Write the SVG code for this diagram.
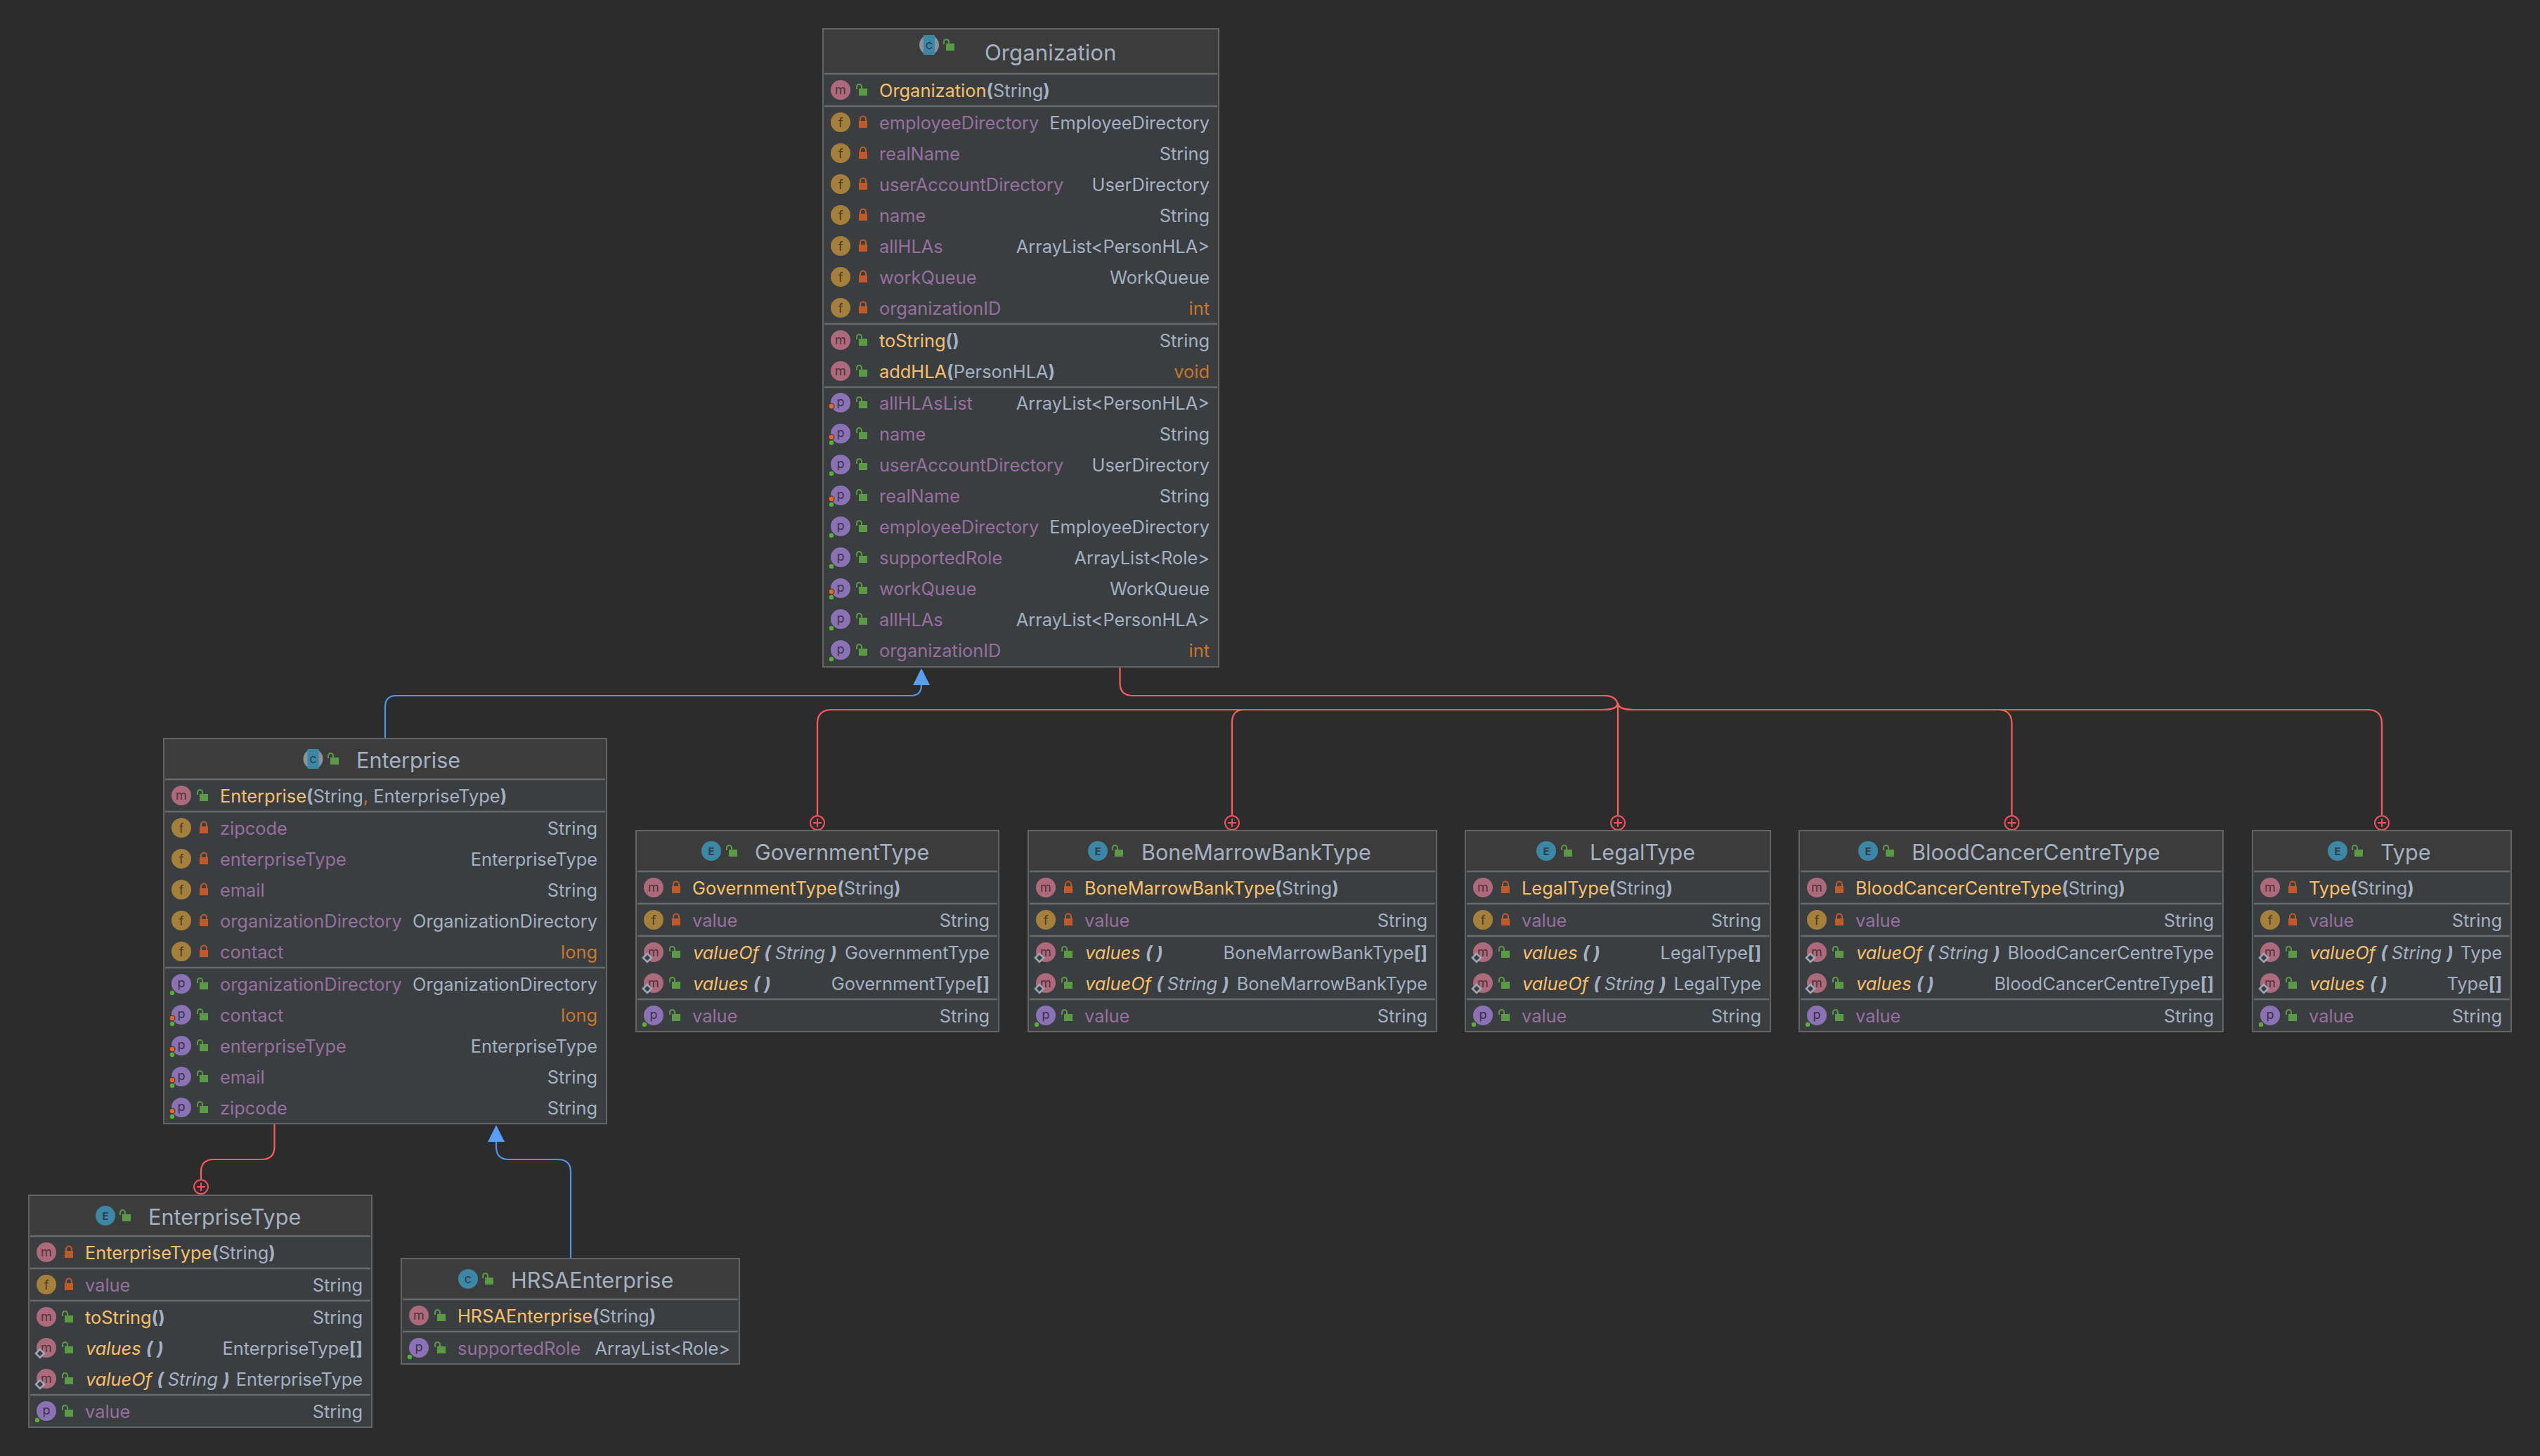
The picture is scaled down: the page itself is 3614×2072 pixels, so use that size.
<svg xmlns="http://www.w3.org/2000/svg" xmlns:xlink="http://www.w3.org/1999/xlink" width="3614" height="2072" viewBox="0 0 3614 2072">
<style>
text{font-family:Inter,"Noto Sans","Liberation Sans",sans-serif;font-size:25.4px;fill:#a4b1c2}
text:not(.il){transform:translateY(1px)}
.t{font-size:30.6px}
.tb{font-size:31.2px}
.n{fill:#96709f}
.y{fill:#f9c06c}
.o{fill:#c7762f}
.b{font-weight:700}
.i{font-style:italic}
.e{text-anchor:end}
.il{font-size:18px;text-anchor:middle;fill:#4d3138}
.hd{fill:#3c3c3c}
.bd{fill:#3b3e41}
.fr{fill:none;stroke:#646464;stroke-width:2}
.dv{fill:none;stroke:#6a6a6a;stroke-width:2.4}
.red{fill:none;stroke:#f95e5e;stroke-width:2.2}
.blue{fill:none;stroke:#4f94ec;stroke-width:2.2}
.plus{fill:none;stroke:#f2505c;stroke-width:2}
</style>
<defs>
<g id="lg"><path d="M-9-1V-4.500a3.500 3.500 0 0 1 7 0V-2" fill="none" stroke="#5a9a45" stroke-width="2"/><rect x="-6" y="-2" width="12" height="10" fill="#5a9a45"/></g>
<g id="lr"><path d="M-4-2V-4.500a4 4 0 0 1 8 0V-2" fill="none" stroke="#c05a2a" stroke-width="2"/><rect x="-6" y="-2" width="12" height="10" fill="#c05a2a"/></g>
<g id="m"><circle r="14" fill="#ad6a7c"/><text class="il" y="6" font-size="20">m</text></g>
<g id="f"><circle r="14" fill="#a5803c"/><text class="il" y="7" style="fill:#4a3a1e">f</text></g>
<g id="p0"><circle r="14" fill="#8a72b5"/><text class="il" y="5" style="fill:#3a3048">p</text></g>
<g id="sd"><path d="M-6 0L0-6L6 0L0 6Z" fill="#3b3e41" stroke="#9ea7b3" stroke-width="2.600"/></g>
<g id="ms"><use href="#m"/><use href="#sd" x="-9" y="8"/></g>
<g id="pg"><use href="#p0"/><circle cx="-13" cy="13" r="4.500" fill="#3b3e41"/><circle cx="-13" cy="13" r="3.200" fill="#58b038"/></g>
<g id="po"><use href="#p0"/><circle cx="-13" cy="5" r="4.500" fill="#3b3e41"/><circle cx="-13" cy="5" r="3.200" fill="#f26522"/></g>
<g id="pb"><use href="#p0"/><circle cx="-13" cy="5" r="4.500" fill="#3b3e41"/><circle cx="-13" cy="13" r="3.200" fill="#58b038"/><circle cx="-13" cy="5" r="3.200" fill="#f26522"/></g>
<g id="ce"><circle r="14" fill="#3b87a5"/><text class="il" y="6" style="fill:#2d3f4a;font-size:15px;font-weight:700">E</text></g>
<g id="cc"><circle r="14" fill="#3b87a5"/><text class="il" y="6" style="fill:#2d3f4a">c</text></g>
<g id="ca"><circle r="14" fill="#8a929c"/><rect x="-8" y="-14" width="16" height="28" fill="#3b87a5"/><text class="il" y="6" style="fill:#2d3f4a">c</text></g>
<path id="ah" d="M0 0L12 24H-12Z" fill="#589df6"/>
<g id="ci"><circle r="10" fill="#2c2c2c" stroke="#f2505c" stroke-width="2"/><path d="M-6 0H6M0-6V6" class="plus"/></g>
</defs>
<rect width="3614" height="2072" fill="#2c2c2c"/>

<g id="connectors">
<path class="blue" d="M548 1051V1006Q548 990 564 990H1296Q1311 990 1311 975V970"/>
<use href="#ah" x="1311" y="951"/>
<path class="blue" d="M812 1791V1668Q812 1650 794 1650H724Q706 1650 706 1632V1620"/>
<use href="#ah" x="706" y="1601"/>
<path class="red" d="M1593.500 950V972Q1593.500 990 1612 990H2282Q2302 990 2302 1006V1161"/>
<path class="red" d="M2302 1000Q2302 1010 2280 1010H1183Q1163 1010 1163 1030V1161"/>
<path class="red" d="M2302 1000Q2302 1010 2280 1010H1770Q1753 1010 1753 1028V1161"/>
<path class="red" d="M2302 1000Q2302 1010 2324 1010H2843Q2862.500 1010 2862.500 1030V1161"/>
<path class="red" d="M2302 1000Q2302 1010 2324 1010H3369Q3389 1010 3389 1030V1161"/>
<path class="red" d="M390.500 1600V1632Q390.500 1650 372 1650H304Q286 1650 286 1668V1679"/>
<use href="#ci" x="1163" y="1171"/>
<use href="#ci" x="1753" y="1171"/>
<use href="#ci" x="2302" y="1171"/>
<use href="#ci" x="2862.500" y="1171"/>
<use href="#ci" x="3389" y="1171"/>
<use href="#ci" x="286" y="1689"/>
</g>

<g id="Organization" transform="translate(1171 0)">
<rect class="bd" y="41" width="563" height="908"/><rect class="hd" y="41" width="563" height="64"/>
<rect class="fr" y="41" width="563" height="908"/><path class="dv" d="M2 105H561M2 151H561M2 461H561M2 551H561"/>
<use href="#ca" x="151" y="64"/><use href="#lg" x="181" y="64"/><text class="tb" x="230" y="85">Organization</text>
<use href="#m" x="25" y="128"/><use href="#lg" x="57" y="128"/><text class="y" x="80" y="137">Organization<tspan class="b" style="fill:#a4b1c2">(</tspan><tspan style="fill:#a4b1c2">String</tspan><tspan class="b" style="fill:#a4b1c2">)</tspan></text>
<use href="#f" x="25" y="174"/><use href="#lr" x="57" y="174"/><text class="n" x="80" y="183">employeeDirectory</text><text class="e" x="550" y="183">EmployeeDirectory</text>
<use href="#f" x="25" y="218"/><use href="#lr" x="57" y="218"/><text class="n" x="80" y="227">realName</text><text class="e" x="550" y="227">String</text>
<use href="#f" x="25" y="262"/><use href="#lr" x="57" y="262"/><text class="n" x="80" y="271">userAccountDirectory</text><text class="e" x="550" y="271">UserDirectory</text>
<use href="#f" x="25" y="306"/><use href="#lr" x="57" y="306"/><text class="n" x="80" y="315">name</text><text class="e" x="550" y="315">String</text>
<use href="#f" x="25" y="350"/><use href="#lr" x="57" y="350"/><text class="n" x="80" y="359">allHLAs</text><text class="e" x="550" y="359">ArrayList&lt;PersonHLA&gt;</text>
<use href="#f" x="25" y="394"/><use href="#lr" x="57" y="394"/><text class="n" x="80" y="403">workQueue</text><text class="e" x="550" y="403">WorkQueue</text>
<use href="#f" x="25" y="438"/><use href="#lr" x="57" y="438"/><text class="n" x="80" y="447">organizationID</text><text class="e o" x="550" y="447">int</text>
<use href="#m" x="25" y="484"/><use href="#lg" x="57" y="484"/><text class="y" x="80" y="493">toString<tspan class="b" style="fill:#a4b1c2">()</tspan></text><text class="e" x="550" y="493">String</text>
<use href="#m" x="25" y="528"/><use href="#lg" x="57" y="528"/><text class="y" x="80" y="537">addHLA<tspan class="b" style="fill:#a4b1c2">(</tspan><tspan style="fill:#a4b1c2">PersonHLA</tspan><tspan class="b" style="fill:#a4b1c2">)</tspan></text><text class="e o" x="550" y="537">void</text>
<use href="#po" x="25" y="573"/><use href="#lg" x="57" y="573"/><text class="n" x="80" y="582">allHLAsList</text><text class="e" x="550" y="582">ArrayList&lt;PersonHLA&gt;</text>
<use href="#pb" x="25" y="617"/><use href="#lg" x="57" y="617"/><text class="n" x="80" y="626">name</text><text class="e" x="550" y="626">String</text>
<use href="#pg" x="25" y="661"/><use href="#lg" x="57" y="661"/><text class="n" x="80" y="670">userAccountDirectory</text><text class="e" x="550" y="670">UserDirectory</text>
<use href="#pb" x="25" y="705"/><use href="#lg" x="57" y="705"/><text class="n" x="80" y="714">realName</text><text class="e" x="550" y="714">String</text>
<use href="#pg" x="25" y="749"/><use href="#lg" x="57" y="749"/><text class="n" x="80" y="758">employeeDirectory</text><text class="e" x="550" y="758">EmployeeDirectory</text>
<use href="#pg" x="25" y="793"/><use href="#lg" x="57" y="793"/><text class="n" x="80" y="802">supportedRole</text><text class="e" x="550" y="802">ArrayList&lt;Role&gt;</text>
<use href="#pb" x="25" y="837"/><use href="#lg" x="57" y="837"/><text class="n" x="80" y="846">workQueue</text><text class="e" x="550" y="846">WorkQueue</text>
<use href="#pg" x="25" y="881"/><use href="#lg" x="57" y="881"/><text class="n" x="80" y="890">allHLAs</text><text class="e" x="550" y="890">ArrayList&lt;PersonHLA&gt;</text>
<use href="#pg" x="25" y="925"/><use href="#lg" x="57" y="925"/><text class="n" x="80" y="934">organizationID</text><text class="e o" x="550" y="934">int</text>
</g>

<g id="Enterprise" transform="translate(233 0)">
<rect class="bd" y="1051" width="630" height="548"/><rect class="hd" y="1051" width="630" height="58"/>
<rect class="fr" y="1051" width="630" height="548"/><path class="dv" d="M2 1109H628M2 1155H628M2 1377H628"/>
<use href="#ca" x="212.500" y="1080"/><use href="#lg" x="243" y="1080"/><text class="t" x="274" y="1092">Enterprise</text>
<use href="#m" x="25" y="1132"/><use href="#lg" x="57" y="1132"/><text class="y" x="80" y="1141">Enterprise<tspan class="b" style="fill:#a4b1c2">(</tspan><tspan style="fill:#a4b1c2">String</tspan><tspan class="o">, </tspan><tspan style="fill:#a4b1c2">EnterpriseType</tspan><tspan class="b" style="fill:#a4b1c2">)</tspan></text>
<use href="#f" x="25" y="1178"/><use href="#lr" x="57" y="1178"/><text class="n" x="80" y="1187">zipcode</text><text class="e" x="617" y="1187">String</text>
<use href="#f" x="25" y="1222"/><use href="#lr" x="57" y="1222"/><text class="n" x="80" y="1231">enterpriseType</text><text class="e" x="617" y="1231">EnterpriseType</text>
<use href="#f" x="25" y="1266"/><use href="#lr" x="57" y="1266"/><text class="n" x="80" y="1275">email</text><text class="e" x="617" y="1275">String</text>
<use href="#f" x="25" y="1310"/><use href="#lr" x="57" y="1310"/><text class="n" x="80" y="1319">organizationDirectory</text><text class="e" x="617" y="1319">OrganizationDirectory</text>
<use href="#f" x="25" y="1354"/><use href="#lr" x="57" y="1354"/><text class="n" x="80" y="1363">contact</text><text class="e o" x="617" y="1363">long</text>
<use href="#pg" x="25" y="1400"/><use href="#lg" x="57" y="1400"/><text class="n" x="80" y="1409">organizationDirectory</text><text class="e" x="617" y="1409">OrganizationDirectory</text>
<use href="#pb" x="25" y="1444"/><use href="#lg" x="57" y="1444"/><text class="n" x="80" y="1453">contact</text><text class="e o" x="617" y="1453">long</text>
<use href="#pb" x="25" y="1488"/><use href="#lg" x="57" y="1488"/><text class="n" x="80" y="1497">enterpriseType</text><text class="e" x="617" y="1497">EnterpriseType</text>
<use href="#pb" x="25" y="1532"/><use href="#lg" x="57" y="1532"/><text class="n" x="80" y="1541">email</text><text class="e" x="617" y="1541">String</text>
<use href="#pb" x="25" y="1576"/><use href="#lg" x="57" y="1576"/><text class="n" x="80" y="1585">zipcode</text><text class="e" x="617" y="1585">String</text>
</g>

<g id="GovernmentType" transform="translate(905 0)">
<rect class="bd" y="1182" width="516" height="286"/><rect class="hd" y="1182" width="516" height="58"/>
<rect class="fr" y="1182" width="516" height="286"/><path class="dv" d="M2 1240H514M2 1286H514M2 1332H514M2 1422H514"/>
<use href="#ce" x="107" y="1211"/><use href="#lg" x="138" y="1211"/><text class="t" x="169" y="1223">GovernmentType</text>
<use href="#m" x="25" y="1263"/><use href="#lr" x="57" y="1263"/><text class="y" x="80" y="1272">GovernmentType<tspan class="b" style="fill:#a4b1c2">(</tspan><tspan style="fill:#a4b1c2">String</tspan><tspan class="b" style="fill:#a4b1c2">)</tspan></text>
<use href="#f" x="25" y="1309"/><use href="#lr" x="57" y="1309"/><text class="n" x="80" y="1318">value</text><text class="e" x="503" y="1318">String</text>
<use href="#ms" x="25" y="1355"/><use href="#lg" x="57" y="1355"/><text class="y i" x="81" y="1364">valueOf <tspan class="b" style="fill:#a4b1c2">( </tspan><tspan style="fill:#a4b1c2">String </tspan><tspan class="b" style="fill:#a4b1c2">)</tspan></text><text class="e" x="503" y="1364">GovernmentType</text>
<use href="#ms" x="25" y="1399"/><use href="#lg" x="57" y="1399"/><text class="y i" x="81" y="1408">values <tspan class="b" style="fill:#a4b1c2">( )</tspan></text><text class="e" x="503" y="1408">GovernmentType<tspan class="b">[]</tspan></text>
<use href="#pg" x="25" y="1445"/><use href="#lg" x="57" y="1445"/><text class="n" x="80" y="1454">value</text><text class="e" x="503" y="1454">String</text>
</g>

<g id="BoneMarrowBankType" transform="translate(1463 0)">
<rect class="bd" y="1182" width="581" height="286"/><rect class="hd" y="1182" width="581" height="58"/>
<rect class="fr" y="1182" width="581" height="286"/><path class="dv" d="M2 1240H579M2 1286H579M2 1332H579M2 1422H579"/>
<use href="#ce" x="99" y="1211"/><use href="#lg" x="129" y="1211"/><text class="t" x="161" y="1223">BoneMarrowBankType</text>
<use href="#m" x="25" y="1263"/><use href="#lr" x="57" y="1263"/><text class="y" x="80" y="1272">BoneMarrowBankType<tspan class="b" style="fill:#a4b1c2">(</tspan><tspan style="fill:#a4b1c2">String</tspan><tspan class="b" style="fill:#a4b1c2">)</tspan></text>
<use href="#f" x="25" y="1309"/><use href="#lr" x="57" y="1309"/><text class="n" x="80" y="1318">value</text><text class="e" x="568" y="1318">String</text>
<use href="#ms" x="25" y="1355"/><use href="#lg" x="57" y="1355"/><text class="y i" x="81" y="1364">values <tspan class="b" style="fill:#a4b1c2">( )</tspan></text><text class="e" x="568" y="1364">BoneMarrowBankType<tspan class="b">[]</tspan></text>
<use href="#ms" x="25" y="1399"/><use href="#lg" x="57" y="1399"/><text class="y i" x="81" y="1408">valueOf <tspan class="b" style="fill:#a4b1c2">( </tspan><tspan style="fill:#a4b1c2">String </tspan><tspan class="b" style="fill:#a4b1c2">)</tspan></text><text class="e" x="568" y="1408">BoneMarrowBankType</text>
<use href="#pg" x="25" y="1445"/><use href="#lg" x="57" y="1445"/><text class="n" x="80" y="1454">value</text><text class="e" x="568" y="1454">String</text>
</g>

<g id="LegalType" transform="translate(2085 0)">
<rect class="bd" y="1182" width="434" height="286"/><rect class="hd" y="1182" width="434" height="58"/>
<rect class="fr" y="1182" width="434" height="286"/><path class="dv" d="M2 1240H432M2 1286H432M2 1332H432M2 1422H432"/>
<use href="#ce" x="115" y="1211"/><use href="#lg" x="146" y="1211"/><text class="t" x="177" y="1223">LegalType</text>
<use href="#m" x="25" y="1263"/><use href="#lr" x="57" y="1263"/><text class="y" x="80" y="1272">LegalType<tspan class="b" style="fill:#a4b1c2">(</tspan><tspan style="fill:#a4b1c2">String</tspan><tspan class="b" style="fill:#a4b1c2">)</tspan></text>
<use href="#f" x="25" y="1309"/><use href="#lr" x="57" y="1309"/><text class="n" x="80" y="1318">value</text><text class="e" x="421" y="1318">String</text>
<use href="#ms" x="25" y="1355"/><use href="#lg" x="57" y="1355"/><text class="y i" x="81" y="1364">values <tspan class="b" style="fill:#a4b1c2">( )</tspan></text><text class="e" x="421" y="1364">LegalType<tspan class="b">[]</tspan></text>
<use href="#ms" x="25" y="1399"/><use href="#lg" x="57" y="1399"/><text class="y i" x="81" y="1408">valueOf <tspan class="b" style="fill:#a4b1c2">( </tspan><tspan style="fill:#a4b1c2">String </tspan><tspan class="b" style="fill:#a4b1c2">)</tspan></text><text class="e" x="421" y="1408">LegalType</text>
<use href="#pg" x="25" y="1445"/><use href="#lg" x="57" y="1445"/><text class="n" x="80" y="1454">value</text><text class="e" x="421" y="1454">String</text>
</g>

<g id="BloodCancerCentreType" transform="translate(2560 0)">
<rect class="bd" y="1182" width="603" height="286"/><rect class="hd" y="1182" width="603" height="58"/>
<rect class="fr" y="1182" width="603" height="286"/><path class="dv" d="M2 1240H601M2 1286H601M2 1332H601M2 1422H601"/>
<use href="#ce" x="98" y="1211"/><use href="#lg" x="129" y="1211"/><text class="t" x="160" y="1223">BloodCancerCentreType</text>
<use href="#m" x="25" y="1263"/><use href="#lr" x="57" y="1263"/><text class="y" x="80" y="1272">BloodCancerCentreType<tspan class="b" style="fill:#a4b1c2">(</tspan><tspan style="fill:#a4b1c2">String</tspan><tspan class="b" style="fill:#a4b1c2">)</tspan></text>
<use href="#f" x="25" y="1309"/><use href="#lr" x="57" y="1309"/><text class="n" x="80" y="1318">value</text><text class="e" x="590" y="1318">String</text>
<use href="#ms" x="25" y="1355"/><use href="#lg" x="57" y="1355"/><text class="y i" x="81" y="1364">valueOf <tspan class="b" style="fill:#a4b1c2">( </tspan><tspan style="fill:#a4b1c2">String </tspan><tspan class="b" style="fill:#a4b1c2">)</tspan></text><text class="e" x="590" y="1364">BloodCancerCentreType</text>
<use href="#ms" x="25" y="1399"/><use href="#lg" x="57" y="1399"/><text class="y i" x="81" y="1408">values <tspan class="b" style="fill:#a4b1c2">( )</tspan></text><text class="e" x="590" y="1408">BloodCancerCentreType<tspan class="b">[]</tspan></text>
<use href="#pg" x="25" y="1445"/><use href="#lg" x="57" y="1445"/><text class="n" x="80" y="1454">value</text><text class="e" x="590" y="1454">String</text>
</g>

<g id="Type" transform="translate(3205 0)">
<rect class="bd" y="1182" width="368" height="286"/><rect class="hd" y="1182" width="368" height="58"/>
<rect class="fr" y="1182" width="368" height="286"/><path class="dv" d="M2 1240H366M2 1286H366M2 1332H366M2 1422H366"/>
<use href="#ce" x="121" y="1211"/><use href="#lg" x="151" y="1211"/><text class="t" x="182" y="1223">Type</text>
<use href="#m" x="25" y="1263"/><use href="#lr" x="57" y="1263"/><text class="y" x="80" y="1272">Type<tspan class="b" style="fill:#a4b1c2">(</tspan><tspan style="fill:#a4b1c2">String</tspan><tspan class="b" style="fill:#a4b1c2">)</tspan></text>
<use href="#f" x="25" y="1309"/><use href="#lr" x="57" y="1309"/><text class="n" x="80" y="1318">value</text><text class="e" x="355" y="1318">String</text>
<use href="#ms" x="25" y="1355"/><use href="#lg" x="57" y="1355"/><text class="y i" x="81" y="1364">valueOf <tspan class="b" style="fill:#a4b1c2">( </tspan><tspan style="fill:#a4b1c2">String </tspan><tspan class="b" style="fill:#a4b1c2">)</tspan></text><text class="e" x="355" y="1364">Type</text>
<use href="#ms" x="25" y="1399"/><use href="#lg" x="57" y="1399"/><text class="y i" x="81" y="1408">values <tspan class="b" style="fill:#a4b1c2">( )</tspan></text><text class="e" x="355" y="1408">Type<tspan class="b">[]</tspan></text>
<use href="#pg" x="25" y="1445"/><use href="#lg" x="57" y="1445"/><text class="n" x="80" y="1454">value</text><text class="e" x="355" y="1454">String</text>
</g>

<g id="EnterpriseType" transform="translate(41 0)">
<rect class="bd" y="1701" width="488" height="330"/><rect class="hd" y="1701" width="488" height="58"/>
<rect class="fr" y="1701" width="488" height="330"/><path class="dv" d="M2 1759H486M2 1805H486M2 1851H486M2 1985H486"/>
<use href="#ce" x="109" y="1730"/><use href="#lg" x="139" y="1730"/><text class="t" x="170" y="1742">EnterpriseType</text>
<use href="#m" x="25" y="1782"/><use href="#lr" x="57" y="1782"/><text class="y" x="80" y="1791">EnterpriseType<tspan class="b" style="fill:#a4b1c2">(</tspan><tspan style="fill:#a4b1c2">String</tspan><tspan class="b" style="fill:#a4b1c2">)</tspan></text>
<use href="#f" x="25" y="1828"/><use href="#lr" x="57" y="1828"/><text class="n" x="80" y="1837">value</text><text class="e" x="475" y="1837">String</text>
<use href="#m" x="25" y="1874"/><use href="#lg" x="57" y="1874"/><text class="y" x="80" y="1883">toString<tspan class="b" style="fill:#a4b1c2">()</tspan></text><text class="e" x="475" y="1883">String</text>
<use href="#ms" x="25" y="1918"/><use href="#lg" x="57" y="1918"/><text class="y i" x="81" y="1927">values <tspan class="b" style="fill:#a4b1c2">( )</tspan></text><text class="e" x="475" y="1927">EnterpriseType<tspan class="b">[]</tspan></text>
<use href="#ms" x="25" y="1962"/><use href="#lg" x="57" y="1962"/><text class="y i" x="81" y="1971">valueOf <tspan class="b" style="fill:#a4b1c2">( </tspan><tspan style="fill:#a4b1c2">String </tspan><tspan class="b" style="fill:#a4b1c2">)</tspan></text><text class="e" x="475" y="1971">EnterpriseType</text>
<use href="#pg" x="25" y="2008"/><use href="#lg" x="57" y="2008"/><text class="n" x="80" y="2017">value</text><text class="e" x="475" y="2017">String</text>
</g>

<g id="HRSAEnterprise" transform="translate(571 0)">
<rect class="bd" y="1791" width="481" height="150"/><rect class="hd" y="1791" width="481" height="58"/>
<rect class="fr" y="1791" width="481" height="150"/><path class="dv" d="M2 1849H479M2 1895H479"/>
<use href="#cc" x="95" y="1820"/><use href="#lg" x="125" y="1820"/><text class="t" x="156" y="1832">HRSAEnterprise</text>
<use href="#m" x="25" y="1872"/><use href="#lg" x="57" y="1872"/><text class="y" x="80" y="1881">HRSAEnterprise<tspan class="b" style="fill:#a4b1c2">(</tspan><tspan style="fill:#a4b1c2">String</tspan><tspan class="b" style="fill:#a4b1c2">)</tspan></text>
<use href="#pg" x="25" y="1918"/><use href="#lg" x="57" y="1918"/><text class="n" x="80" y="1927">supportedRole</text><text class="e" x="468" y="1927">ArrayList&lt;Role&gt;</text>
</g>
</svg>
